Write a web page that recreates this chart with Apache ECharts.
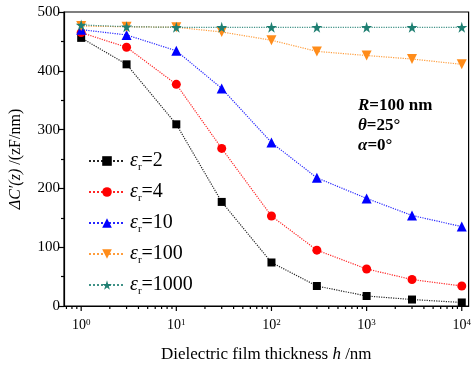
<!DOCTYPE html>
<html>
<head>
<meta charset="utf-8">
<script src="https://cdn.jsdelivr.net/npm/echarts@6/dist/echarts.min.js"></script>
<style>html,body{margin:0;padding:0;background:#fff}#c{width:474px;height:368px}</style>
</head>
<body>
<div id="c"></div>
<script>
var thickness = [1, 3, 10, 30, 100, 300, 1000, 3000, 10000];
var eps2    = [456, 411, 309, 177, 74, 34, 17, 11, 6];
var eps4    = [465, 440, 377, 268, 153, 95, 63, 45, 34];
var eps10   = [470, 461, 434, 370, 278, 218, 183, 154, 135];
var eps100  = [476, 475, 474, 466, 452, 433, 426, 420, 411];
var eps1000 = [478, 475, 474, 474, 474, 474, 474, 474, 474];
var seriesNames = ['2', '4', '10', '100', '1000'];
var seriesColors = ['#000000', '#ff0000', '#0000ff', '#ff8c1a', '#1f7f72'];
var majorTicks = [1, 10, 100, 1000, 10000];
var minorTicks = [0.7, 0.8, 0.9,
  2, 3, 4, 5, 6, 7, 8, 9,
  20, 30, 40, 50, 60, 70, 80, 90,
  200, 300, 400, 500, 600, 700, 800, 900,
  2000, 3000, 4000, 5000, 6000, 7000, 8000, 9000];

var starPath = 'path://M50,0 L61,35 L98,35 L68,57 L79,91 L50,70 L21,91 L32,57 L2,35 L39,35 Z';
var symbols = ['rect', 'circle', 'triangle', 'triangle', starPath];
var symbolSizes = [8, 9, 10, 10, 11];
var symbolRotates = [0, 0, 0, 180, 0];
var allData = [eps2, eps4, eps10, eps100, eps1000];

var serif = 'Liberation Serif';

function pairs(ys) { return thickness.map(function (x, i) { return [x, ys[i]]; }); }

var series = allData.map(function (ys, k) {
  return {
    name: seriesNames[k],
    type: 'line',
    data: pairs(ys),
    symbol: symbols[k],
    symbolSize: symbolSizes[k],
    symbolRotate: symbolRotates[k],
    itemStyle: { color: seriesColors[k] },
    lineStyle: { color: seriesColors[k], type: 'dotted', width: 1.2, opacity: 0.85 },
    z: 3 + k
  };
});

function tickSeries(vals, len) {
  return {
    type: 'custom',
    data: vals.map(function (v) { return [v, 0]; }),
    silent: true,
    clip: false,
    z: 10,
    renderItem: function (params, api) {
      var p = api.coord([api.value(0), 0]);
      return {
        type: 'line',
        shape: { x1: p[0], y1: p[1], x2: p[0], y2: p[1] + len },
        style: { stroke: '#000', lineWidth: 1.2 }
      };
    }
  };
}
series.push(tickSeries(majorTicks, 5));
series.push(tickSeries(minorTicks, 3));

var chart = echarts.init(document.getElementById('c'), null, { renderer: 'canvas' });
chart.setOption({
  animation: false,
  backgroundColor: '#fff',
  grid: { left: 63, right: 4, top: 12, bottom: 58, show: true, borderColor: '#000', borderWidth: 1.2 },
  xAxis: {
    type: 'log',
    logBase: 10,
    min: 0.66,
    max: 11800,
    name: 'Dielectric film thickness {i|h} /nm',
    nameLocation: 'middle',
    nameGap: 40,
    nameTextStyle: {
      fontFamily: serif, fontSize: 17, color: '#000',
      rich: { i: { fontFamily: serif, fontSize: 17, fontStyle: 'italic', color: '#000' } }
    },
    axisLine: { lineStyle: { color: '#000', width: 1.2 } },
    axisTick: { show: false },
    splitLine: { show: false },
    axisLabel: {
      margin: 12,
      showMinLabel: false,
      showMaxLabel: false,
      formatter: function (v) {
        var l = Math.log10(v);
        var r = Math.round(l);
        if (Math.abs(l - r) > 1e-6) return '';
        return '{b|10}{s|' + r + '}';
      },
      rich: {
        b: { fontFamily: serif, fontSize: 14, color: '#000' },
        s: { fontFamily: serif, fontSize: 9, color: '#000', verticalAlign: 'top', padding: [0, 0, 6, 0] }
      }
    }
  },
  yAxis: {
    type: 'value',
    min: 0,
    max: 500,
    interval: 100,
    name: '{i|ΔC′(z)} /(zF/nm)',
    nameLocation: 'middle',
    nameGap: 40,
    nameTextStyle: {
      fontFamily: serif, fontSize: 16, color: '#000',
      rich: { i: { fontFamily: serif, fontSize: 16, fontStyle: 'italic', color: '#000' } }
    },
    axisLine: { show: true, lineStyle: { color: '#000', width: 1.2 } },
    axisTick: { show: true, inside: false, length: 5, lineStyle: { color: '#000', width: 1.2 } },
    minorTick: { show: true, splitNumber: 2, length: 3, lineStyle: { color: '#000', width: 1.2 } },
    splitLine: { show: false },
    axisLabel: { fontFamily: serif, fontSize: 15, color: '#000', margin: 4 }
  },
  legend: {
    orient: 'vertical',
    left: 83,
    top: 146,
    itemWidth: 36,
    itemHeight: 12,
    itemGap: 9,
    data: seriesNames,
    formatter: function (n) { return '{e|ε}{s|r}{t|=' + n + '}'; },
    textStyle: {
      rich: {
        e: { fontFamily: serif, fontSize: 20, fontStyle: 'italic', color: '#000', lineHeight: 24 },
        s: { fontFamily: serif, fontSize: 11, color: '#000', verticalAlign: 'bottom', lineHeight: 10 },
        t: { fontFamily: serif, fontSize: 20, color: '#000', lineHeight: 24 }
      }
    }
  },
  graphic: [{
    type: 'text',
    left: 358,
    top: 97,
    style: {
      text: '{ib|R}{b|=100 nm}\n{ib|θ}{b|=25°}\n{ib|α}{b|=0°}',
      rich: {
        ib: { fontFamily: serif, fontSize: 17, fontStyle: 'italic', fontWeight: 'bold', fill: '#000', lineHeight: 20 },
        b: { fontFamily: serif, fontSize: 17, fontWeight: 'bold', fill: '#000', lineHeight: 20 }
      }
    }
  }],
  series: series
});
</script>
</body>
</html>
